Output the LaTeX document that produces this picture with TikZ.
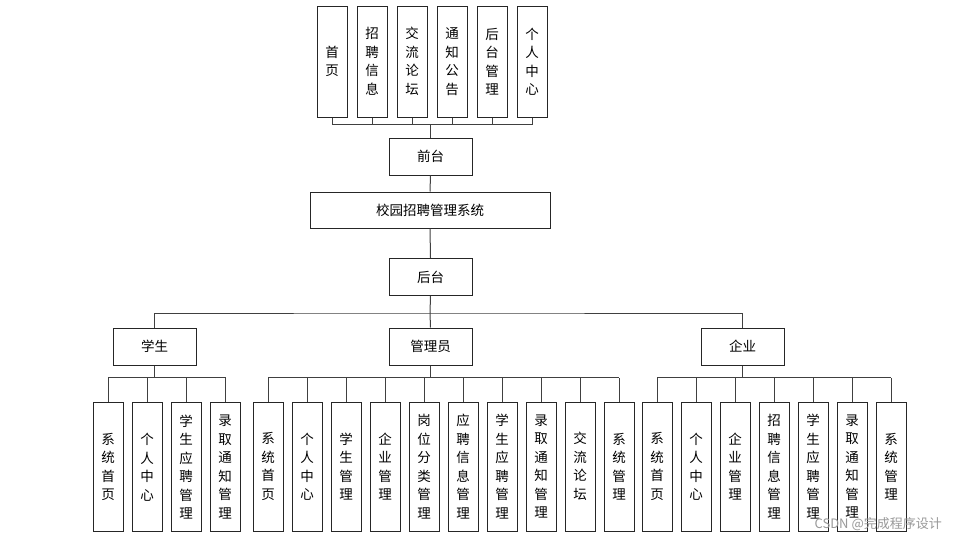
\documentclass[tikz,border=0pt]{standalone}
\usepackage{fontspec}
\setmainfont{Noto Sans CJK SC}
\begin{document}
\begin{tikzpicture}[x=1pt,y=-1pt,
  bx/.style={draw=black!85,line width=1pt,fill=white,inner sep=0pt,font=\fontsize{13.5}{18.5}\selectfont,align=center},
  vb/.style={bx,minimum width=30pt,minimum height=129pt},
  tb/.style={bx,minimum width=30pt,minimum height=111pt},
  hb/.style={bx,minimum width=83pt,minimum height=37pt},
  ln/.style={draw=black!75,line width=1pt}]
\useasboundingbox (0,0) rectangle (958,544);
% top
\foreach \t [count=\i] in {首\\页,招\\聘\\信\\息,交\\流\\论\\坛,通\\知\\公\\告,后\\台\\管\\理,个\\人\\中\\心}{
  \node[tb] (t\i) at ({332+40*(\i-1)},61.5) {\t};
  \draw[ln] (t\i.south) -- ++(0,7);
}
\draw[ln] (t1.south) ++(0,7) coordinate (tl) -- (t6.south |- tl);
\node[hb] (qt) at (430.5,156.5) {前台};
\draw[ln] (qt.north) -- (qt.north |- tl);
\node[bx,minimum width=240pt,minimum height=36pt] (sys) at (430,210) {校园招聘管理系统};
\node[hb] (ht) at (430.5,277) {后台};
\draw[ln] (qt.south) -- (sys.north);
\draw[ln] (sys.south) -- (ht.north);
\node[hb] (xs) at (154.5,346.5) {学生};
\node[hb] (gl) at (430.5,346.5) {管理员};
\node[hb] (qy) at (742.5,346.5) {企业};
\coordinate (hb) at (430,313);
\draw[ln] (ht.south) -- (hb);
\draw[ln] (xs.north) |- (hb) -| (qy.north);
\draw[ln] (hb) -- (gl.north);
% student
\foreach \t [count=\i] in {系\\统\\首\\页,个\\人\\中\\心,学\\生\\应\\聘\\管\\理,录\\取\\通\\知\\管\\理}{
  \node[vb] (s\i) at ({108+39*(\i-1)},467) {\t};
  \draw[ln] (s\i.north) -- ++(0,-25);
}
\draw[ln] (s1.north) ++(0,-25) coordinate (sl) -- (s4.north |- sl);
\draw[ln] (xs.south) -- (xs.south |- sl);
% admin
\foreach \t [count=\i] in {系\\统\\首\\页,个\\人\\中\\心,学\\生\\管\\理,企\\业\\管\\理,岗\\位\\分\\类\\管\\理,应\\聘\\信\\息\\管\\理,学\\生\\应\\聘\\管\\理,录\\取\\通\\知\\管\\理,交\\流\\论\\坛,系\\统\\管\\理}{
  \node[vb] (a\i) at ({268+39*(\i-1)},466.5) {\t};
  \draw[ln] (a\i.north) -- ++(0,-24);
}
\draw[ln] (a1.north) ++(0,-24) coordinate (al) -- (a10.north |- al);
\draw[ln] (gl.south) -- (gl.south |- al);
% enterprise
\foreach \t [count=\i] in {系\\统\\首\\页,个\\人\\中\\心,企\\业\\管\\理,招\\聘\\信\\息\\管\\理,学\\生\\应\\聘\\管\\理,录\\取\\通\\知\\管\\理,系\\统\\管\\理}{
  \node[vb] (e\i) at ({657+39*(\i-1)},466.5) {\t};
  \draw[ln] (e\i.north) -- ++(0,-24);
}
\draw[ln] (e1.north) ++(0,-24) coordinate (el) -- (e7.north |- el);
\draw[ln] (qy.south) -- (qy.south |- el);
\node[font=\fontsize{13}{15}\selectfont,text=black!40,anchor=east,inner sep=0pt] (wm) at (942,524) {CSDN @完成程序设计};
\end{tikzpicture}
\end{document}
